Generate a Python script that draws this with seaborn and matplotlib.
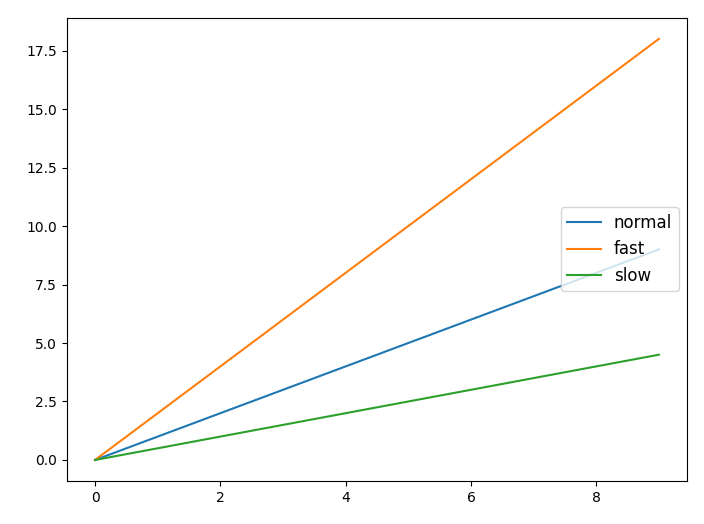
import numpy as np
import pandas as pd
import seaborn as sns
import matplotlib.pyplot as plt

x = [0, 1, 2, 3, 4, 5, 6, 7, 8, 9]
normal = [0, 1, 2, 3, 4, 5, 6, 7, 8, 9]
fast = [0, 2, 4, 6, 8, 10, 12, 14, 16, 18]
slow = [0, 0.5, 1, 1.5, 2, 2.5, 3, 3.5, 4, 4.5]

df = pd.DataFrame({'x': x, 'normal': normal, 'fast': fast, 'slow': slow})
long = df.melt(id_vars='x', var_name='speed', value_name='y')

fig = plt.figure(figsize=(7.04, 5.24), dpi=100)
ax = fig.add_axes([0.095, 0.082, 0.881, 0.884])
sns.lineplot(data=long, x='x', y='y', hue='speed', ax=ax,
             palette=['#1f77b4', '#ff7f0e', '#2ca02c'])
ax.set_xlabel('')
ax.set_ylabel('')
ax.legend(loc='center right', fontsize=12)

fig.savefig('out.png', dpi=100)
